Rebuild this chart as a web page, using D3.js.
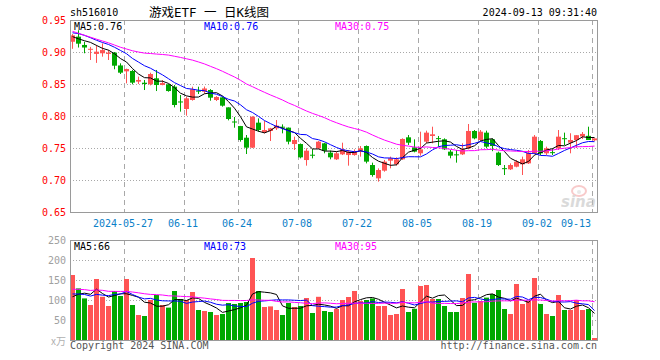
<!DOCTYPE html>
<html><head><meta charset="utf-8">
<script src="https://cdn.jsdelivr.net/npm/d3@7"></script>
<style>body{margin:0;background:#fff}svg{display:block}</style>
</head><body>
<svg id="c" width="660" height="360"></svg>
<script>
const dates = ["05-14","05-15","05-16","05-17","05-20","05-21","05-22","05-23","05-24","05-27","05-28","05-29","05-30","05-31",
"06-03","06-04","06-05","06-06","06-07","06-11","06-12","06-13","06-14","06-17","06-18","06-19","06-20","06-21","06-24","06-25","06-26","06-27","06-28",
"07-01","07-02","07-03","07-04","07-05","07-08","07-09","07-10","07-11","07-12","07-15","07-16","07-17","07-18","07-19","07-22","07-23","07-24","07-25","07-26","07-29","07-30","07-31",
"08-01","08-02","08-05","08-06","08-07","08-08","08-09","08-12","08-13","08-14","08-15","08-16","08-19","08-20","08-21","08-22","08-23","08-26","08-27","08-28","08-29","08-30",
"09-02","09-03","09-04","09-05","09-06","09-09","09-10","09-11","09-12","09-13"];
const openP = [0.916,0.924,0.911,0.9045,0.897,0.898,0.897,0.899,0.879,0.8698,0.8703,0.8537,0.852,0.8495,0.8589,0.8484,0.8495,0.8458,0.8227,0.8109,0.825,0.8396,0.838,0.8406,0.825,0.8291,0.8135,0.7914,0.7843,0.7661,0.7505,0.7896,0.7745,0.7766,0.7807,0.7833,0.7818,0.7562,0.7562,0.7312,0.7395,0.7495,0.7573,0.7427,0.7323,0.7401,0.739,0.739,0.7458,0.7531,0.7234,0.7026,0.7146,0.7302,0.7245,0.7323,0.7667,0.751,0.7417,0.7599,0.7688,0.7654,0.7636,0.7443,0.7401,0.7401,0.7495,0.7766,0.7625,0.774,0.7636,0.7427,0.7185,0.7167,0.7208,0.7245,0.726,0.7417,0.761,0.7417,0.7435,0.7495,0.7653,0.7584,0.7625,0.768,0.769,0.762];
const highP = [0.928,0.934,0.916,0.908,0.911,0.9135,0.903,0.900,0.8823,0.874,0.872,0.8615,0.8563,0.8677,0.8719,0.856,0.850,0.8484,0.8328,0.8302,0.8458,0.8458,0.846,0.842,0.831,0.830,0.8135,0.7984,0.7845,0.7703,0.7995,0.7963,0.7922,0.7815,0.7937,0.7869,0.782,0.7677,0.757,0.7495,0.7484,0.7609,0.758,0.7458,0.7443,0.7583,0.7469,0.7479,0.7531,0.754,0.7271,0.7182,0.7313,0.7365,0.7354,0.7651,0.7703,0.7635,0.7755,0.7771,0.7833,0.7688,0.7651,0.7469,0.7469,0.7573,0.7875,0.7781,0.7781,0.7771,0.765,0.7443,0.7234,0.726,0.7313,0.7365,0.7469,0.7703,0.7625,0.7521,0.7495,0.7781,0.774,0.773,0.770,0.775,0.7833,0.765];
const lowP = [0.905,0.907,0.898,0.8875,0.883,0.8927,0.8875,0.873,0.8656,0.851,0.8495,0.850,0.8406,0.8479,0.839,0.848,0.838,0.8135,0.8068,0.8005,0.824,0.8344,0.835,0.8239,0.8234,0.8146,0.7932,0.7817,0.7599,0.7406,0.750,0.7755,0.7729,0.7609,0.7781,0.7729,0.7557,0.7469,0.7338,0.7224,0.7338,0.7484,0.7417,0.7323,0.7313,0.739,0.7224,0.738,0.7365,0.726,0.7052,0.6974,0.713,0.7182,0.7224,0.7313,0.7547,0.7432,0.738,0.7573,0.7573,0.7521,0.7469,0.7339,0.7271,0.739,0.7479,0.7636,0.760,0.7495,0.745,0.7219,0.7078,0.7156,0.7198,0.7078,0.725,0.7401,0.739,0.739,0.739,0.7469,0.7547,0.7417,0.750,0.764,0.7625,0.761];
const closeP = [0.926,0.913,0.907,0.905,0.9005,0.903,0.899,0.8786,0.8677,0.8734,0.8521,0.8563,0.850,0.8656,0.8484,0.8515,0.839,0.8172,0.8222,0.8276,0.8417,0.8392,0.843,0.8286,0.8297,0.8161,0.7953,0.791,0.7625,0.7505,0.7989,0.7781,0.7781,0.7807,0.7849,0.783,0.7599,0.7625,0.7354,0.7458,0.739,0.7599,0.7458,0.7354,0.7417,0.7479,0.7443,0.7453,0.7495,0.7287,0.7078,0.7156,0.7287,0.7339,0.7323,0.7641,0.7583,0.7443,0.7479,0.774,0.7714,0.7651,0.7479,0.738,0.7398,0.7479,0.7766,0.7651,0.7755,0.7521,0.7531,0.7234,0.718,0.7234,0.7287,0.7323,0.7427,0.7677,0.7417,0.7495,0.7432,0.7677,0.765,0.7625,0.770,0.772,0.7625,0.765];
const volume = [162.5,129,104,87.5,152.5,108,85,122.5,110,152.5,87.5,62.5,60,100,112.5,87.5,81,122.5,102.5,100,120,75,72.5,70,62.5,65,92.5,90,92.5,95,205,122.5,82.5,84,75,62.5,92.5,82.5,85,105,67.5,108,72.5,70,77.5,100,107.5,122.5,97.5,100,104,85,85,62.5,65,127.5,70,78,135,137.5,102.5,102.5,85,70,70,105,165,93,97.5,106,115,125,77.5,65,140,90,97.5,155,90,65,60,112.5,75,75,100,75,77.5,5];
// closes and volumes of the 29 sessions before the window (they only feed the moving averages)
const preClose = [1.005,1.000,0.995,0.992,0.990,0.985,0.980,0.973,0.955,0.935,0.915,0.900,0.885,0.875,0.870,0.868,0.872,0.878,0.890,0.905,0.925,0.935,0.942,0.940,0.938,0.930,0.922,0.918,0.924];
const preVolume = [140,125,150,118,132,160,128,115,145,138,122,130,150,127,118,140,135,128,120,139,130,115,128,110,127,98,90,102,88];
const priceTicks = [0.95,0.90,0.85,0.80,0.75,0.70,0.65];
const volTicks = [250,200,150,100,50];
const dateTicks = ["05-27","06-11","06-24","07-08","07-22","08-05","08-19","09-02","09-13"];
const dateTickLabels = ["2024-05-27","06-11","06-24","07-08","07-22","08-05","08-19","09-02","09-13"];
const maPeriods = [5,10,30];
const maColors = ["#000000","#0000ff","#ff00ff"];
const priceMaLabels = ["MA5:0.76","MA10:0.76","MA30:0.75"];
const volMaLabels = ["MA5:66","MA10:73","MA30:95"];

const svg = d3.select("#c");
const FONT = "'DejaVu Sans Mono', 'Liberation Mono', monospace";
const RED = "#ff5454", GREEN = "#00a800", FRAME = "#9a9a9a", GRID = "#a8a8a8";
const L = 70, R = 597, PT = 20, PB = 212, VT = 240, VB = 340;

const x = d3.scaleBand().domain(dates).range([L, R]).paddingInner(1/6).paddingOuter(0);
const y = d3.scaleLinear().domain([0.65, 0.95]).range([PB, PT]);
const yv = d3.scaleLinear().domain([0, 250]).range([VB, VT]);
const cx = d => Math.round(x(d)) + 2.5;

function movingAvg(pre, arr, n) {
  const all = pre.concat(arr);
  return arr.map((_, i) => {
    const end = pre.length + i;
    return d3.mean(all.slice(end - n + 1, end + 1));
  });
}

svg.append("rect").attr("width", 660).attr("height", 360).attr("fill", "#fff");

// header
svg.append("text").attr("x", 70).attr("y", 16).attr("font-family", FONT).attr("font-size", 10).attr("fill", "#000").text("sh516010");
svg.append("text").attr("x", 209).attr("y", 17).attr("text-anchor", "middle")
  .attr("font-family", "'DejaVu Sans Mono', 'Noto Sans CJK SC', sans-serif").attr("font-size", 12.5).attr("fill", "#000").text("游戏ETF 一 日K线图");
svg.append("text").attr("x", 597).attr("y", 16).attr("text-anchor", "end").attr("font-family", FONT).attr("font-size", 10).attr("fill", "#000").text("2024-09-13 09:31:40");

// price grid
const gP = svg.append("g");
gP.selectAll("line.h").data(priceTicks.filter(t => t > 0.66 && t < 0.94)).join("line")
  .attr("x1", L).attr("x2", R).attr("y1", d => Math.round(y(d)) + 0.5).attr("y2", d => Math.round(y(d)) + 0.5)
  .attr("stroke", GRID).attr("stroke-dasharray", "1,2");
gP.selectAll("line.v").data(dateTicks).join("line")
  .attr("x1", d => Math.round(x(d)) + 0.5).attr("x2", d => Math.round(x(d)) + 0.5).attr("y1", PT).attr("y2", PB)
  .attr("stroke", GRID).attr("stroke-dasharray", "5,4");
// volume grid
const gV = svg.append("g");
gV.selectAll("line.h").data(volTicks.filter(t => t < 250)).join("line")
  .attr("x1", L).attr("x2", R).attr("y1", d => Math.round(yv(d)) + 0.5).attr("y2", d => Math.round(yv(d)) + 0.5)
  .attr("stroke", GRID).attr("stroke-dasharray", "1,2");
gV.selectAll("line.v").data(dateTicks).join("line")
  .attr("x1", d => Math.round(x(d)) + 0.5).attr("x2", d => Math.round(x(d)) + 0.5).attr("y1", VT).attr("y2", VB)
  .attr("stroke", GRID).attr("stroke-dasharray", "5,4");

// watermark
const wm = svg.append("g").attr("opacity", 0.55);
wm.append("ellipse").attr("cx", 579).attr("cy", 191).attr("rx", 7).attr("ry", 5).attr("fill", "none").attr("stroke", "#f4a0a0").attr("stroke-width", 2);
wm.append("circle").attr("cx", 579).attr("cy", 192).attr("r", 2).attr("fill", "#d8d8d8");
wm.append("text").attr("x", 561).attr("y", 207).attr("font-family", "'DejaVu Sans', sans-serif").attr("font-weight", "bold").attr("font-style", "italic")
  .attr("font-size", 15).attr("fill", "#bdbdbd").text("sina");

// candles
const idx = d3.range(dates.length);
const gc = svg.append("g");
gc.selectAll("line.w").data(idx).join("line")
  .attr("x1", i => cx(dates[i])).attr("x2", i => cx(dates[i]))
  .attr("y1", i => y(highP[i])).attr("y2", i => y(lowP[i]))
  .attr("stroke", i => closeP[i] >= openP[i] ? RED : GREEN).attr("stroke-width", 1);
gc.selectAll("rect").data(idx).join("rect")
  .attr("x", i => Math.round(x(dates[i]))).attr("width", Math.round(x.bandwidth()))
  .attr("y", i => y(Math.max(openP[i], closeP[i])))
  .attr("height", i => Math.max(1, y(Math.min(openP[i], closeP[i])) - y(Math.max(openP[i], closeP[i]))))
  .attr("fill", i => closeP[i] >= openP[i] ? RED : GREEN);

// volume bars
svg.append("g").selectAll("rect").data(idx).join("rect")
  .attr("x", i => Math.round(x(dates[i]))).attr("width", Math.round(x.bandwidth()))
  .attr("y", i => yv(volume[i])).attr("height", i => VB - yv(volume[i]))
  .attr("fill", i => closeP[i] >= openP[i] ? RED : GREEN);

// moving averages
const line = d3.line().x((v, i) => cx(dates[i])).y(v => v);
maPeriods.forEach((n, k) => {
  const ma = movingAvg(preClose, closeP, n);
  svg.append("path").attr("d", line(ma.map(v => y(v)))).attr("fill", "none").attr("stroke", maColors[k]).attr("stroke-width", 1);
  const mv = movingAvg(preVolume, volume, n);
  svg.append("path").attr("d", line(mv.map(v => yv(v)))).attr("fill", "none").attr("stroke", maColors[k]).attr("stroke-width", 1);
});

// frames
svg.append("rect").attr("x", L + 0.5).attr("y", PT + 0.5).attr("width", R - L).attr("height", PB - PT).attr("fill", "none").attr("stroke", FRAME);
svg.append("rect").attr("x", L + 0.5).attr("y", VT + 0.5).attr("width", R - L).attr("height", VB - VT).attr("fill", "none").attr("stroke", FRAME);

// axis labels
svg.append("g").selectAll("text").data(priceTicks).join("text")
  .attr("x", 66).attr("y", d => y(d) + 4).attr("text-anchor", "end").attr("font-family", FONT).attr("font-size", 10).attr("fill", "#ff0000")
  .text(d => d.toFixed(2));
svg.append("g").selectAll("text").data(volTicks).join("text")
  .attr("x", 66).attr("y", d => yv(d) + 4).attr("text-anchor", "end").attr("font-family", FONT).attr("font-size", 10).attr("fill", "#a0a0a0")
  .text(d => d);
svg.append("text").attr("x", 66).attr("y", 345).attr("text-anchor", "end").attr("font-family", "'Noto Sans CJK SC', sans-serif").attr("font-size", 10).attr("fill", "#b0b0b0").text("x万");
const nT = dateTicks.length;
svg.append("g").selectAll("text").data(dateTicks).join("text")
  .attr("x", (d, i) => i === nT - 1 ? 591 : Math.round(x(d)) - 1)
  .attr("y", 227).attr("text-anchor", (d, i) => i === nT - 1 ? "end" : "middle")
  .attr("font-family", FONT).attr("font-size", 10).attr("fill", "#0a80c8")
  .text((d, i) => dateTickLabels[i]);

// MA legends
const legX = [74, 204, 335];
priceMaLabels.forEach((t, k) => svg.append("text").attr("x", legX[k]).attr("y", 29.5).attr("font-family", FONT).attr("font-size", 10).attr("fill", maColors[k]).text(t));
volMaLabels.forEach((t, k) => svg.append("text").attr("x", legX[k]).attr("y", 250).attr("font-family", FONT).attr("font-size", 10).attr("fill", maColors[k]).text(t));

// footer
svg.append("text").attr("x", 70).attr("y", 349).attr("font-family", FONT).attr("font-size", 10).attr("fill", "#555").text("Copyright 2024 SINA.COM");
svg.append("text").attr("x", 597).attr("y", 349).attr("text-anchor", "end").attr("font-family", FONT).attr("font-size", 10).attr("fill", "#555").text("http://finance.sina.com.cn");
</script>
</body></html>
